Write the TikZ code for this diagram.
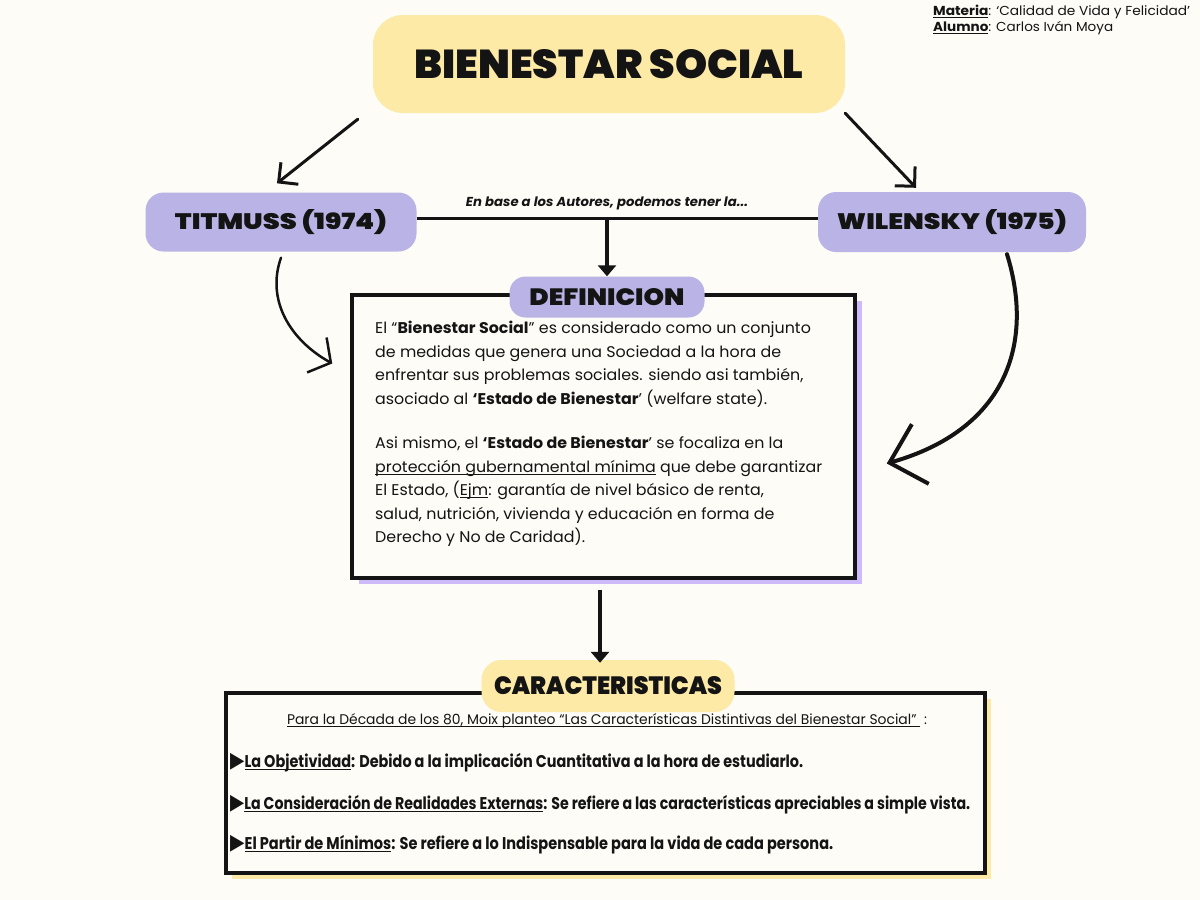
\documentclass[tikz,border=0pt]{standalone}
\usepackage{fontspec}
\usepackage{graphicx}
\setmainfont{Poppins}
\newfontfamily\heavyfont{Poppins Black}
\newfontfamily\symfont{DejaVu Sans}
\usetikzlibrary{arrows.meta,calc,shadows}
\definecolor{bgc}{RGB}{253,252,246}
\definecolor{yel}{RGB}{252,234,166}
\definecolor{pur}{RGB}{186,180,230}
\definecolor{shpur}{RGB}{206,186,250}
\definecolor{ink}{RGB}{20,20,20}
\newcommand{\fitw}[2]{\resizebox{#1}{\height}{#2}}
\newcommand{\ulx}[1]{\setbox0\hbox{#1}\rlap{\rule[-2.6pt]{\wd0}{0.9pt}}\box0\relax}
\tikzset{
 ypill/.style={fill=yel, rounded corners=22pt, inner sep=0pt, text=ink},
 ppill/.style={fill=pur, rounded corners=18pt, inner sep=0pt, text=ink},
 framebox/.style={draw=ink, line width=3.5pt, fill=bgc, inner sep=0pt},
 barb/.style={draw=ink, line width=3pt, line cap=round, line join=round, -{Straight Barb[length=14pt,width=28pt]}},
 darr/.style={draw=ink, line width=4.5pt, -{Triangle[length=11pt,width=18pt]}},
 txt/.style={inner sep=0pt, text=ink},
}
\begin{document}
\begin{tikzpicture}[x=1pt,y=-1pt]
\fill[bgc] (0,0) rectangle (1200,900);
\useasboundingbox (0,0) rectangle (1200,900);

% title
\node[ypill, minimum width=472pt, minimum height=98pt, rounded corners=30pt] (title) at (609,64)
  {\resizebox{389pt}{29pt}{\heavyfont BIENESTAR SOCIAL}};

% top right
\node[txt, anchor=base west] (materia) at (933,15)
  {\fitw{257pt}{\fontsize{13}{15}\selectfont\ulx{\textbf{Materia}}: ‘Calidad de Vida y Felicidad’}};
\node[txt, anchor=base west] (alumno) at (933,31)
  {\fitw{180pt}{\fontsize{13}{15}\selectfont\ulx{\textbf{Alumno}}: Carlos Iván Moya}};

% authors
\node[ppill, minimum width=271pt, minimum height=59pt] (titmuss) at (281,222)
  {\resizebox{212pt}{20pt}{\heavyfont TITMUSS (1974)}};
\node[ppill, minimum width=268pt, minimum height=60pt] (wilensky) at (952,222)
  {\resizebox{230pt}{20pt}{\heavyfont WILENSKY (1975)}};

\draw[ink, line width=3pt] ($(titmuss.east)+(0,-4)$) -- ($(wilensky.west)+(0,-4)$);
\node[txt] (lbl) at (607,203)
  {\fitw{282pt}{\fontsize{13}{15}\selectfont\bfseries\itshape En base a los Autores, podemos tener la...}};
\coordinate (j) at (607,218);

% definition box
\node[framebox, minimum width=503pt, minimum height=283pt,
  drop shadow={shadow xshift=7pt, shadow yshift=-6pt, fill=shpur, opacity=1}] (defbox) at (603.5,436.5) {};
\node[ppill, minimum width=195pt, minimum height=41pt, rounded corners=16pt] (defpill) at (607,297)
  {\resizebox{155pt}{17pt}{\heavyfont DEFINICION}};
\draw[darr] (j) -- (defpill.north);
\node[txt, anchor=north west] (deftext) at (375,317)
  {\fitw{447pt}{\fontsize{15.5}{23.5}\selectfont\begin{tabular}{@{}l@{}}
  El “\textbf{Bienestar Social}” es considerado como un conjunto\\
  de medidas que genera una Sociedad a la hora de\\
  enfrentar sus problemas sociales. siendo asi también,\\
  asociado al \textbf{‘Estado de Bienestar}’ (welfare state).\\[21pt]
  Asi mismo, el \textbf{‘Estado de Bienestar}’ se focaliza en la\\
  \ulx{protección gubernamental mínima} que debe garantizar\\
  El Estado, (\ulx{Ejm}: garantía de nivel básico de renta,\\
  salud, nutrición, vivienda y educación en forma de\\
  Derecho y No de Caridad).
  \end{tabular}}};

% characteristics box
\node[framebox, minimum width=759pt, minimum height=180pt,
  drop shadow={shadow xshift=6pt, shadow yshift=-6pt, fill=yel, opacity=1}] (charbox) at (605.5,783) {};
\node[ypill, minimum width=253pt, minimum height=52pt, rounded corners=20pt] (charpill) at (608,686)
  {\resizebox{228pt}{18pt}{\heavyfont CARACTERISTICAS}};
\draw[darr] ($(defbox.south)+(-3.5,10)$) -- ($(charpill.north)+(-8,3)$);

\node[txt] (intro) at (607,721)
  {\fitw{640pt}{\fontsize{14}{16}\selectfont\ulx{Para la Década de los 80, Moix planteo “Las Características Distintivas del Bienestar Social” } :}};
\node[txt, anchor=base west] (b1) at (230,767)
  {\fitw{573pt}{\fontsize{17}{20}\selectfont\bfseries{\symfont\fontsize{22}{20}\selectfont ▶}\ulx{La Objetividad}: Debido a la implicación Cuantitativa a la hora de estudiarlo.}};
\node[txt, anchor=base west] (b2) at (230,809)
  {\fitw{740pt}{\fontsize{17}{20}\selectfont\bfseries{\symfont\fontsize{22}{20}\selectfont ▶}\ulx{La Consideración de Realidades Externas}: Se refiere a las características apreciables a simple vista.}};
\node[txt, anchor=base west] (b3) at (230,849)
  {\fitw{603pt}{\fontsize{17}{20}\selectfont\bfseries{\symfont\fontsize{22}{20}\selectfont ▶}\ulx{El Partir de Mínimos}: Se refiere a lo Indispensable para la vida de cada persona.}};

% arrows from title
\draw[barb] ($(title.south west)+(-15,6)$) -- ($(titmuss.north)+(-4,-9)$);
\draw[barb] ($(title.south east)+(0,0)$) -- ($(wilensky.north)+(-36,-4)$);
% curved arrows
\draw[barb, line width=2.5pt, -{Straight Barb[length=16pt,width=40pt]}]
  ($(titmuss.south)+(0,6)$) .. controls (266,300) and (290,340) .. ($(defbox.west)+(-18,-73)$);
\draw[barb, line width=4pt, -{Straight Barb[length=32pt,width=62pt]}]
  ($(wilensky.south)+(55,2)$) .. controls (1035,345) and (1005,430) .. ($(defbox.east)+(30,27)$);
\end{tikzpicture}
\end{document}
